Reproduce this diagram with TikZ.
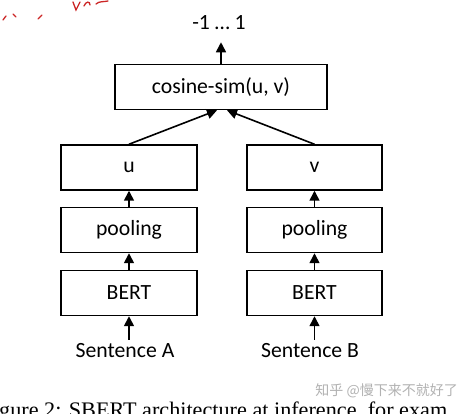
\documentclass[tikz,border=0pt]{standalone}
\usepackage{fontspec}
\setmainfont{Carlito}
\newfontfamily\capfont{Liberation Serif}
\newfontfamily\cjkfont{Noto Sans CJK SC}
\usetikzlibrary{arrows.meta}
\begin{document}
\begin{tikzpicture}[x=1pt,y=-1pt,
  blk/.style={draw,line width=1.5pt,minimum height=45pt,inner sep=0pt,font=\fontsize{21.7}{26}\selectfont},
  lbl/.style={inner sep=1pt,font=\fontsize{21.7}{26}\selectfont},
  arr/.style={line width=1.6pt,-{Triangle[width=10pt,length=10pt]}},
  scrib/.style={draw=red!75!black!80!pink,line width=1.3pt,line cap=round}]
\useasboundingbox (0,0) rectangle (472,414);
\fill[white] (0,0) rectangle (472,414);
% nodes
\node[blk,minimum width=212pt] (cos) at (221,87) {cosine-sim(u, v)};
\node[lbl] (out) at (219,23) {-1 … 1};
\node[blk,minimum width=136pt] (u) at (129,167.5) {u};
\node[blk,minimum width=136pt] (pa) at (129,230) {pooling};
\node[blk,minimum width=136pt] (ba) at (129,293) {BERT};
\node[blk,minimum width=135pt] (v) at (314.5,167.5) {v};
\node[blk,minimum width=135pt] (pb) at (314.5,230) {pooling};
\node[blk,minimum width=135pt] (bb) at (314.5,293) {BERT};
\node[lbl] (sa) at (125,351) {Sentence A};
\node[lbl] (sb) at (310,351) {Sentence B};
% connectors
\draw[arr,shorten >=11pt] (cos.north) -- (out.south -| cos.north);
\draw[arr] (u.north) -- ([xshift=-4pt]cos.south);
\draw[arr] (v.north) -- ([xshift=6pt]cos.south);
\draw[arr] (pa) -- (u);
\draw[arr] (pb) -- (v);
\draw[arr] (ba) -- (pa);
\draw[arr] (bb) -- (pb);
\draw[arr,shorten <=3pt] (sa.north -| ba.south) -- (ba.south);
\draw[arr,shorten <=3pt] (sb.north -| bb.south) -- (bb.south);
% watermark and caption
\node[inner sep=0pt,text=black!30,font=\cjkfont\fontsize{14}{16}\selectfont,anchor=east] (wm) at (458,391) {知乎 @慢下来不就好了};
\node[inner sep=0pt,font=\capfont\fontsize{22.2}{26}\selectfont,anchor=base west] (cap) at (-1,418) {gure 2: SBERT architecture at inference, for exam};
% red scribbles
\draw[scrib] (3,20) -- (6,16);
\draw[scrib] (13,14) -- (16,17);
\draw[scrib] (38,19) -- (42,15);
\draw[scrib] (73,2) -- (76,10) -- (80,2);
\draw[scrib] (84,6) .. controls (86,1) and (90,1) .. (90,5);
\draw[scrib] (96,4) .. controls (99,1) and (104,2) .. (108,1);
\end{tikzpicture}
\end{document}
